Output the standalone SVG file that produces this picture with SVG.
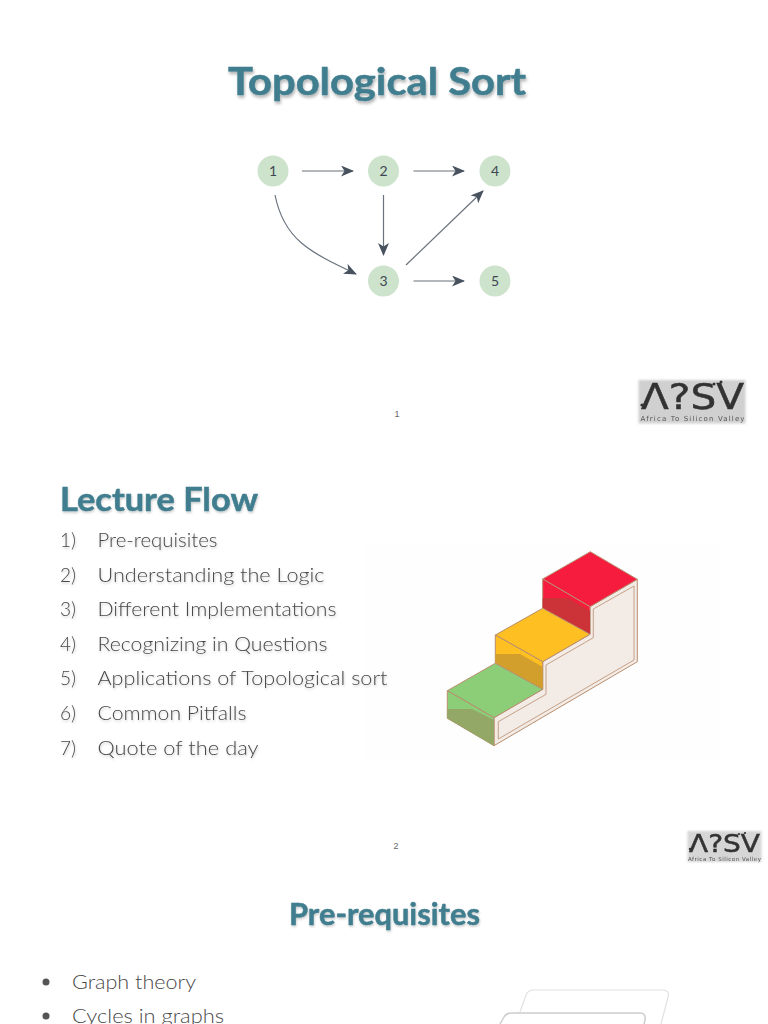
<svg xmlns="http://www.w3.org/2000/svg" width="768" height="1024" viewBox="0 0 768 1024">
<defs>
<filter id="ts" x="-10%" y="-30%" width="120%" height="170%"><feDropShadow dx="1" dy="2.5" stdDeviation="1.6" flood-color="#000" flood-opacity="0.3"/></filter>
<filter id="ls" x="-5%" y="-30%" width="110%" height="170%"><feDropShadow dx="0.6" dy="1.5" stdDeviation="1" flood-color="#000" flood-opacity="0.22"/></filter>
<filter id="soft" x="-5%" y="-10%" width="110%" height="120%"><feGaussianBlur stdDeviation="0.8"/></filter>
<filter id="soft2" x="-5%" y="-10%" width="110%" height="120%"><feGaussianBlur stdDeviation="0.35"/></filter>
<marker id="ah" viewBox="0 0 13 11" refX="12" refY="5.500" markerWidth="13" markerHeight="11" markerUnits="userSpaceOnUse" orient="auto"><path d="M0 0L13 5.500L0 11L3.500 5.500Z" fill="#47525e"/></marker>
</defs>
<style>
.h{font-family:"Lato","Liberation Sans",sans-serif;font-weight:700;fill:#417e8f;stroke:#417e8f;stroke-width:0.5}
.li{font-family:"Lato","Liberation Sans",sans-serif;font-size:19px;font-weight:300;fill:#484848}
.n{font-family:"Lato","Liberation Sans",sans-serif;font-size:14px;fill:#3f4852;text-anchor:middle}
.pg{font-family:"Liberation Sans",sans-serif;font-size:9px;fill:#666;text-anchor:middle}
.node{fill:#cde3cc}
.edge{fill:none;stroke:#6a737d;stroke-width:1.2;marker-end:url(#ah)}
.logoT{font-family:"DejaVu Sans",sans-serif;fill:#333}
.logoM{stroke:#333;stroke-width:0.5}
.logoS{fill:#555}
.st{stroke:#b98e6f;stroke-width:1;stroke-linejoin:round}
.sheet1{fill:none;stroke:#e2e2e2;stroke-width:1.2}
.sheet2{fill:none;stroke:#cdcdcd;stroke-width:1.5}
</style>
<rect width="768" height="1024" fill="#fff"/>
<rect x="365" y="545" width="355" height="215" fill="#fefefe"/>
<text class="h" x="228" y="95" font-size="38" textLength="298" lengthAdjust="spacingAndGlyphs" filter="url(#ts)">Topological Sort</text>
<g id="connectors">
<path class="edge" d="M302 171H353"/>
<path class="edge" d="M413.500 171H464"/>
<path class="edge" d="M383.500 195V255"/>
<path class="edge" d="M275 195C284 240 310 252 356 274"/>
<path class="edge" d="M406 265L483 191"/>
<path class="edge" d="M413.500 281H464"/>
</g>
<g id="node1"><circle class="node" cx="273" cy="171" r="15.500"/><text class="n" x="273" y="176">1</text></g>
<g id="node2"><circle class="node" cx="383.500" cy="171" r="15.500"/><text class="n" x="383.500" y="176">2</text></g>
<g id="node4"><circle class="node" cx="495" cy="171" r="15.500"/><text class="n" x="495" y="176">4</text></g>
<g id="node3"><circle class="node" cx="383.500" cy="281" r="15.500"/><text class="n" x="383.500" y="286">3</text></g>
<g id="node5"><circle class="node" cx="495" cy="281" r="15.500"/><text class="n" x="495" y="286">5</text></g>
<text class="pg" x="397" y="417">1</text>
<g id="logo1" filter="url(#soft2)">
<rect x="638.500" y="380" width="107" height="43.500" fill="#d0d0d0" filter="url(#soft)"/>
<text class="logoT logoM" x="641" y="409" font-size="35" textLength="103" lengthAdjust="spacingAndGlyphs">Λ?SV</text>
<circle cx="642" cy="405" r="1.600" fill="#333"/><circle cx="714" cy="384" r="1.500" fill="#333"/><circle cx="721" cy="382" r="1.500" fill="#333"/>
<text class="logoT logoS" x="640.500" y="421" font-size="7" textLength="104">Africa To Silicon Valley</text>
</g>
<text class="h" x="60" y="511" font-size="33" textLength="198" lengthAdjust="spacingAndGlyphs" filter="url(#ls)">Lecture Flow</text>
<g class="li" filter="url(#ls)">
<text x="60" y="547">1)</text><text x="97.500" y="547" textLength="120" lengthAdjust="spacingAndGlyphs">Pre-requisites</text>
<text x="60" y="581.500">2)</text><text x="97.500" y="581.500" textLength="227" lengthAdjust="spacingAndGlyphs">Understanding the Logic</text>
<text x="60" y="616">3)</text><text x="97.500" y="616" textLength="239" lengthAdjust="spacingAndGlyphs">Different Implementations</text>
<text x="60" y="650.500">4)</text><text x="97.500" y="650.500" textLength="230" lengthAdjust="spacingAndGlyphs">Recognizing in Questions</text>
<text x="60" y="685">5)</text><text x="97.500" y="685" textLength="290" lengthAdjust="spacingAndGlyphs">Applications of Topological sort</text>
<text x="60" y="720">6)</text><text x="97.500" y="720" textLength="149" lengthAdjust="spacingAndGlyphs">Common Pitfalls</text>
<text x="60" y="754.500">7)</text><text x="97.500" y="754.500" textLength="161" lengthAdjust="spacingAndGlyphs">Quote of the day</text>
</g>
<g id="steps">
<polygon class="st" fill="#f3ebe6" points="494,717.700 542.700,689.300 542.700,661.700 590,634.300 590,606.700 637.300,579.300 637.300,661.700 494,745.700"/>
<polygon fill="none" stroke="#b98e6f" stroke-width="0.8" points="498.300,721.700 546,694.300 546,665 593.300,637.700 593.300,609 634,586 634,660 498.300,739"/>
<polygon class="st" fill="#f61c3d" points="590.300,551.700 637.300,579.300 590,606.700 542.700,579"/>
<polygon class="st" fill="#f61c3d" points="542.700,579 590,606.700 590,634.300 542.700,608.300"/>
<polygon fill="#cc3339" points="542.700,598 568,598 590,611 590,634.300 542.700,608.300"/>
<polygon class="st" fill="#fdbf22" points="542.700,608.300 590,634.300 542.700,661.700 495.300,635"/>
<polygon class="st" fill="#fdbf22" points="495.300,635 542.700,661.700 542.700,689.300 495.300,662.700"/>
<polygon fill="#d29f2c" points="495.300,654 520,654 542.700,667 542.700,689.300 495.300,662.700"/>
<polygon class="st" fill="#8ccd78" points="495.300,663.300 542.700,689.300 494,717.700 447.300,690.700"/>
<polygon class="st" fill="#8ccd78" points="447.300,690.700 494,717.700 494,745.700 447.300,718.300"/>
<polygon fill="#93a866" points="447.300,709 472,709 494,720 494,745.700 447.300,718.300"/>
</g>
<text class="pg" x="396" y="849">2</text>
<g id="logo2" filter="url(#soft2)">
<rect x="687.500" y="831" width="74" height="31" fill="#d6d6d6" filter="url(#soft)"/>
<text class="logoT logoM" x="689" y="852" font-size="25" textLength="71" lengthAdjust="spacingAndGlyphs">Λ?SV</text>
<circle cx="690" cy="849" r="1.200" fill="#333"/><circle cx="739" cy="834" r="1.100" fill="#333"/><circle cx="745" cy="833" r="1.100" fill="#333"/>
<text class="logoT logoS" x="688" y="861" font-size="5.500" textLength="73">Africa To Silicon Valley</text>
</g>
<text class="h" x="289" y="925" font-size="30" textLength="191" lengthAdjust="spacingAndGlyphs" filter="url(#ls)">Pre-requisites</text>
<circle cx="46" cy="982" r="3.500" fill="#555"/>
<text class="li" x="72" y="988.500" textLength="124" lengthAdjust="spacingAndGlyphs">Graph theory</text>
<circle cx="46" cy="1016" r="3.500" fill="#555"/>
<text class="li" x="72" y="1022.500" textLength="152" lengthAdjust="spacingAndGlyphs">Cycles in graphs</text>
<g id="sheets">
<path class="sheet1" d="M520 1012L526 995Q528 990 534 990H662Q670 990 668 997L661 1024"/>
<path class="sheet2" d="M500 1024L504 1017Q506 1013 512 1013H640Q646 1013 645 1020L644 1024"/>
</g>
</svg>
